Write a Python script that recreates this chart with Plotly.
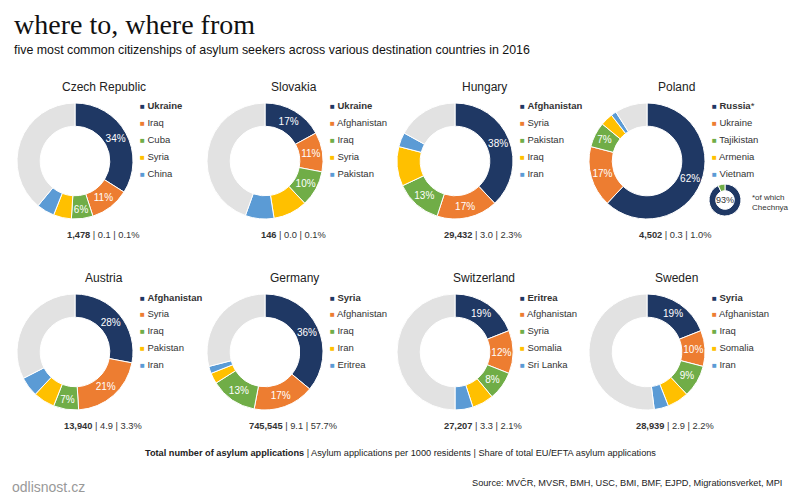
import plotly.graph_objects as go

# destination countries and their five most common citizenships (2016)
countries = ["Czech Republic", "Slovakia", "Hungary", "Poland",
             "Austria", "Germany", "Switzerland", "Sweden"]
origins = [
    ["Ukraine", "Iraq", "Cuba", "Syria", "China"],
    ["Ukraine", "Afghanistan", "Iraq", "Syria", "Pakistan"],
    ["Afghanistan", "Syria", "Pakistan", "Iraq", "Iran"],
    ["Russia", "Ukraine", "Tajikistan", "Armenia", "Vietnam"],
    ["Afghanistan", "Syria", "Iraq", "Pakistan", "Iran"],
    ["Syria", "Afghanistan", "Iraq", "Iran", "Eritrea"],
    ["Eritrea", "Afghanistan", "Syria", "Somalia", "Sri Lanka"],
    ["Syria", "Afghanistan", "Iraq", "Somalia", "Iran"],
]
# share of applications in % (first three are labelled)
shares = [
    [34, 11, 6, 5, 5],
    [17, 11, 10, 9.5, 8],
    [38, 17, 13, 11, 4],
    [62, 17, 7, 3.5, 1.5],
    [28, 21, 7, 6, 5.5],
    [36, 17, 13, 3, 2],
    [19, 12, 8, 6, 5],
    [19, 10, 9, 6, 4],
]
totals = ["1,478", "146", "29,432", "4,502", "13,940", "745,545", "27,207", "28,939"]
per_1000 = ["0.1", "0.0", "3.0", "0.3", "4.9", "9.1", "3.3", "2.9"]
eu_share = ["0.1%", "0.1%", "2.3%", "1.0%", "3.3%", "57.7%", "2.1%", "2.2%"]

# Poland: share of Chechens among Russian applicants
chechnya = [93, 7]

colors = ["#1f3864", "#ed7d31", "#70ad47", "#ffc000", "#5b9bd5", "#e2e2e2"]

W, H = 800, 500
OFF = 8  # page margin of the html body
cx_list = [75, 265, 455, 647]
cy_list = [161, 352]
R = 58
FONT = "Liberation Sans"

fig = go.Figure()
ann = []


def px_x(x):
    return (x - OFF) / W


def px_y(y):
    return 1 - (y - OFF) / H


for i, country in enumerate(countries):
    cx = cx_list[i % 4]
    cy = cy_list[i // 4]
    vals = shares[i] + [round(100 - sum(shares[i]), 1)]
    labels = origins[i] + ["other"]
    txt = [f"{v:g}%" for v in shares[i][:3]] + ["", "", ""]

    fig.add_trace(go.Pie(
        values=vals, labels=labels, text=txt,
        textinfo="text", textposition="inside",
        insidetextorientation="horizontal",
        textfont=dict(color="white", size=10, family=FONT),
        hole=0.6, sort=False, direction="clockwise", rotation=0,
        marker=dict(colors=colors, line=dict(color="white", width=1)),
        domain=dict(x=[px_x(cx - R), px_x(cx + R)], y=[px_y(cy + R), px_y(cy - R)]),
        showlegend=False, hoverinfo="label+value",
    ))

    # panel title
    ann.append(dict(x=px_x(cx + 29), y=px_y(cy - 74), text=country,
                    font=dict(size=12, color="#222", family=FONT),
                    xanchor="center", yanchor="middle"))

    # legend
    for j, name in enumerate(origins[i]):
        label = f"<b>{name}</b>" if j == 0 else name
        if country == "Poland" and j == 0:
            label += "*"
        ann.append(dict(
            x=px_x(cx + 63), y=px_y(cy - 55 + 16.8 * j),
            text=f"<span style='color:{colors[j]};font-size:8px'>■</span> {label}",
            font=dict(size=9.5, color="#333", family=FONT),
            xanchor="left", yanchor="middle"))

    # numbers under the donut
    ann.append(dict(x=px_x(cx + 28), y=px_y(cy + 74),
                    text=f"<b>{totals[i]}</b> | {per_1000[i]} | {eu_share[i]}",
                    font=dict(size=9.3, color="#333", family=FONT),
                    xanchor="center", yanchor="middle"))

# small Chechnya donut next to Poland
scx, scy, sr = 725, 200, 16
fig.add_trace(go.Pie(
    values=chechnya, labels=["Chechnya", "other"], textinfo="none",
    hole=0.58, sort=False, direction="clockwise", rotation=0,
    marker=dict(colors=[colors[0], colors[2]], line=dict(color="white", width=1)),
    domain=dict(x=[px_x(scx - sr), px_x(scx + sr)], y=[px_y(scy + sr), px_y(scy - sr)]),
    showlegend=False,
))
ann.append(dict(x=px_x(scx), y=px_y(scy), text=f"{chechnya[0]}%",
                font=dict(size=9, color="#333", family=FONT),
                xanchor="center", yanchor="middle"))
ann.append(dict(x=px_x(750), y=px_y(scy + 2), text="*of which<br>Chechnya", align="left",
                font=dict(size=8, color="#333", family=FONT),
                xanchor="left", yanchor="middle"))

# titles and footer
ann.append(dict(x=px_x(12), y=px_y(24), text="where to, where from",
                font=dict(size=28, color="#111", family="Liberation Serif"),
                xanchor="left", yanchor="middle"))
ann.append(dict(x=px_x(12), y=px_y(50),
                text="five most common citizenships of asylum seekers across various destination countries in 2016",
                font=dict(size=12.4, color="#111", family=FONT),
                xanchor="left", yanchor="middle"))
ann.append(dict(x=px_x(400), y=px_y(453),
                text="<b>Total number of asylum applications</b> | Asylum applications per 1000 residents"
                     " | Share of total EU/EFTA asylum applications",
                font=dict(size=9.2, color="#222", family=FONT),
                xanchor="center", yanchor="middle"))
ann.append(dict(x=px_x(10), y=px_y(487), text="odlisnost.cz",
                font=dict(size=14, color="#999", family=FONT),
                xanchor="left", yanchor="middle"))
ann.append(dict(x=px_x(784), y=px_y(483),
                text="Source: MVČR, MVSR, BMH, USC, BMI, BMF, EJPD, Migrationsverket, MPI",
                font=dict(size=9.2, color="#222", family=FONT),
                xanchor="right", yanchor="middle"))

for a in ann:
    a.update(xref="paper", yref="paper", showarrow=False)

fig.update_layout(
    width=W, height=H,
    margin=dict(l=0, r=0, t=0, b=0),
    paper_bgcolor="white", plot_bgcolor="white",
    annotations=ann,
)

fig.write_html("out.html")
